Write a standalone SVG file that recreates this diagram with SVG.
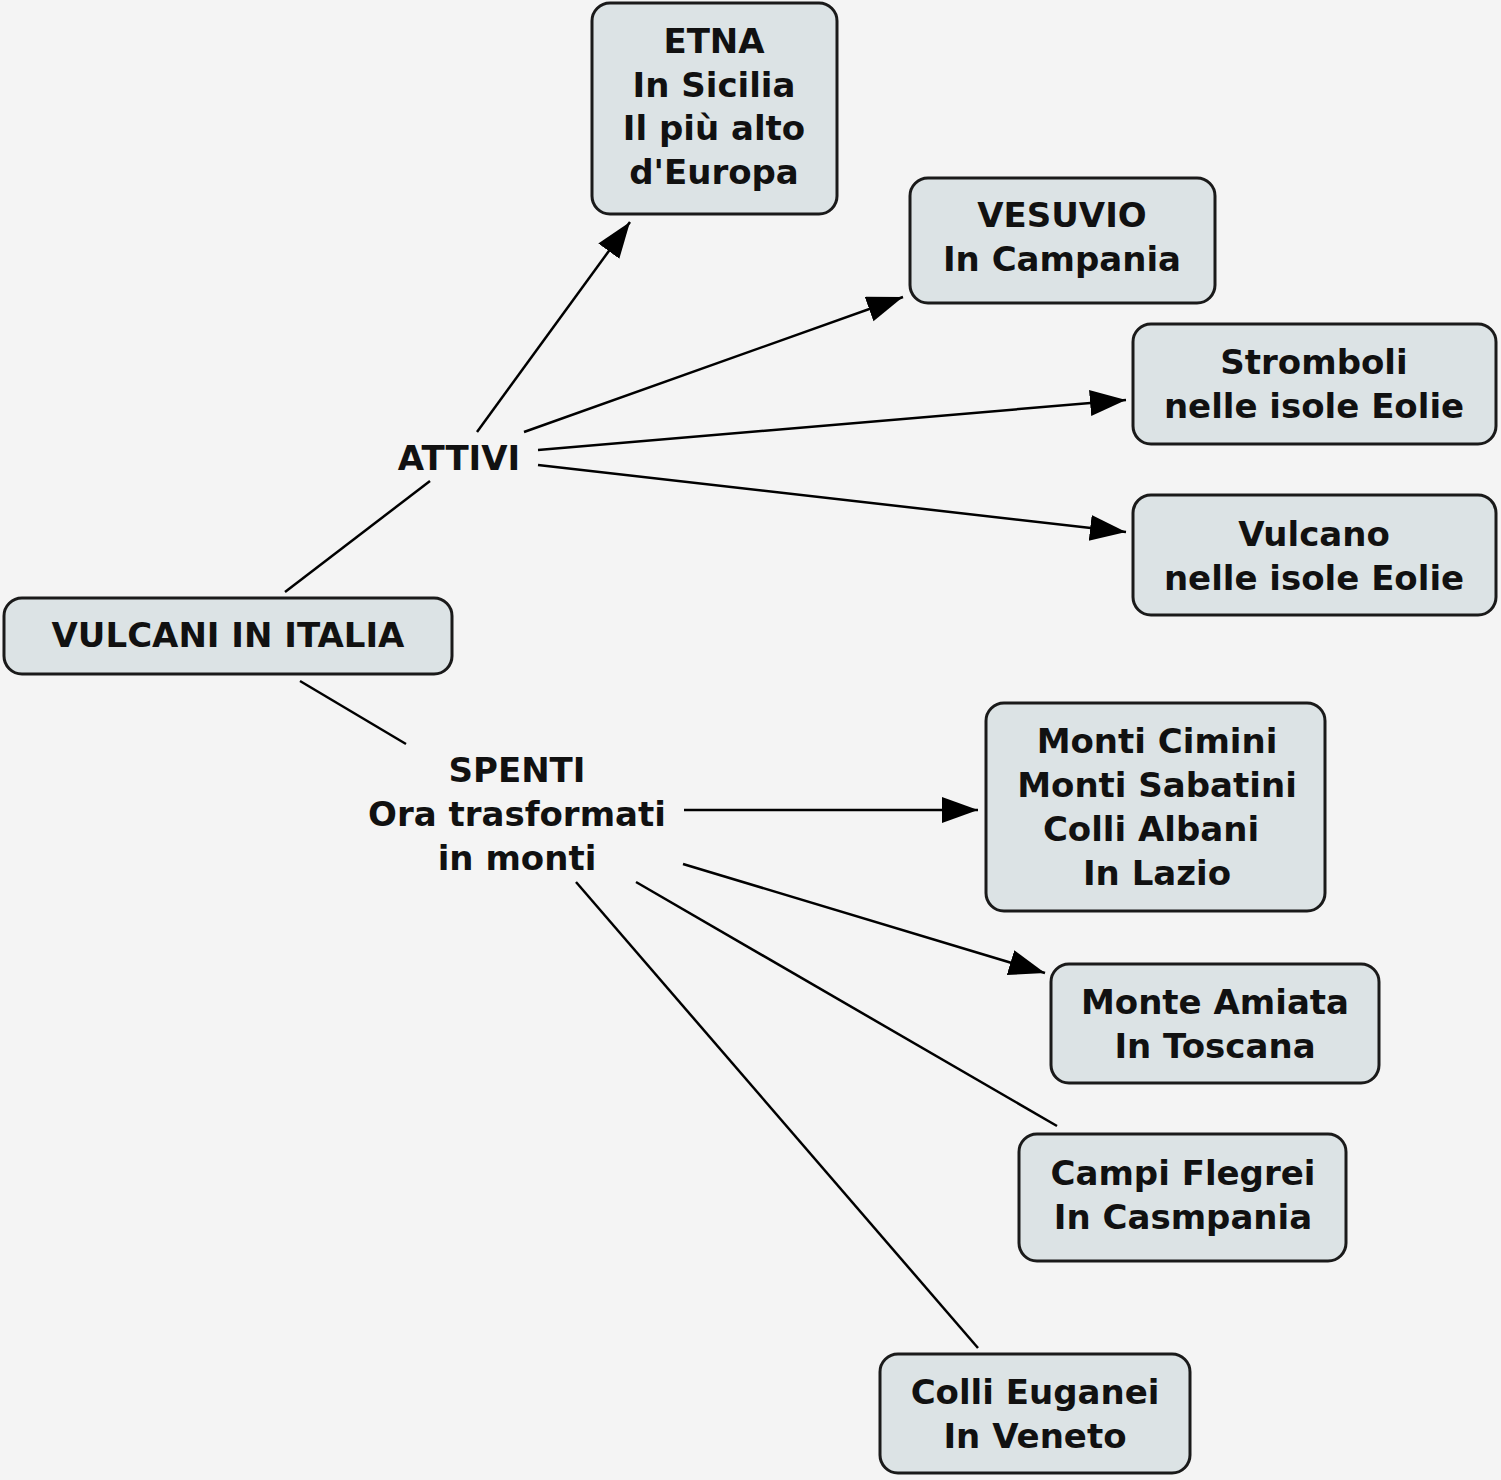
<svg xmlns="http://www.w3.org/2000/svg" width="1501" height="1480" viewBox="0 0 1501 1480">
<style>
.n rect{fill:#dce3e5;stroke:#1a1a1a;stroke-width:3}
text{font-family:"DejaVu Sans",Verdana,sans-serif;font-weight:bold;font-size:34px;fill:#111;text-anchor:middle}
.c line{stroke:#000;stroke-width:2.5}
</style>
<defs>
<marker id="a" markerUnits="userSpaceOnUse" markerWidth="40" markerHeight="30" refX="36" refY="13" orient="auto">
<path d="M0,0 L36,13 L0,26 Z" fill="#000"/>
</marker>
</defs>
<rect width="1501" height="1480" fill="#f4f4f4"/>
<g class="c">
<line x1="285" y1="592" x2="430" y2="481"/>
<line x1="477" y1="432" x2="630" y2="222" marker-end="url(#a)"/>
<line x1="524" y1="432" x2="903" y2="297" marker-end="url(#a)"/>
<line x1="538" y1="450" x2="1126" y2="400" marker-end="url(#a)"/>
<line x1="538" y1="465" x2="1126" y2="532" marker-end="url(#a)"/>
<line x1="300" y1="681" x2="406" y2="744"/>
<line x1="684" y1="810" x2="978" y2="810" marker-end="url(#a)"/>
<line x1="683" y1="864" x2="1045" y2="973" marker-end="url(#a)"/>
<line x1="636" y1="882" x2="1057" y2="1126"/>
<line x1="576" y1="882" x2="978" y2="1348"/>
</g>
<g id="etna" class="n"><rect x="592" y="3" width="245" height="211" rx="18"/>
<text x="714" y="53">ETNA</text><text x="714" y="97">In Sicilia</text><text x="714" y="140">Il più alto</text><text x="714" y="184">d'Europa</text></g>
<g id="vesuvio" class="n"><rect x="910" y="178" width="305" height="125" rx="18"/>
<text x="1062" y="227">VESUVIO</text><text x="1062" y="271">In Campania</text></g>
<g id="stromboli" class="n"><rect x="1133" y="324" width="363" height="120" rx="18"/>
<text x="1314" y="374">Stromboli</text><text x="1314" y="418">nelle isole Eolie</text></g>
<g id="vulcano" class="n"><rect x="1133" y="495" width="363" height="120" rx="18"/>
<text x="1314" y="546">Vulcano</text><text x="1314" y="590">nelle isole Eolie</text></g>
<g id="root" class="n"><rect x="4" y="598" width="448" height="76" rx="18"/>
<text x="228" y="647">VULCANI IN ITALIA</text></g>
<g id="attivi"><text x="459" y="470">ATTIVI</text></g>
<g id="spenti"><text x="517" y="782">SPENTI</text><text x="517" y="826">Ora trasformati</text><text x="517" y="870">in monti</text></g>
<g id="lazio" class="n"><rect x="986" y="703" width="339" height="208" rx="18"/>
<text x="1157" y="753">Monti Cimini</text><text x="1157" y="797">Monti Sabatini</text><text x="1151" y="841">Colli Albani</text><text x="1157" y="885">In Lazio</text></g>
<g id="amiata" class="n"><rect x="1051" y="964" width="328" height="119" rx="18"/>
<text x="1215" y="1014">Monte Amiata</text><text x="1215" y="1058">In Toscana</text></g>
<g id="flegrei" class="n"><rect x="1019" y="1134" width="327" height="127" rx="18"/>
<text x="1183" y="1185">Campi Flegrei</text><text x="1183" y="1229">In Casmpania</text></g>
<g id="euganei" class="n"><rect x="880" y="1354" width="310" height="119" rx="18"/>
<text x="1035" y="1404">Colli Euganei</text><text x="1035" y="1448">In Veneto</text></g>
</svg>
